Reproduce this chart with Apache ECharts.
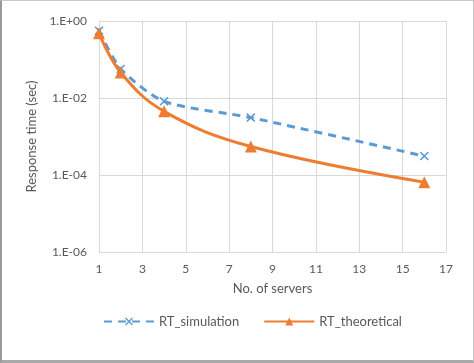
<!DOCTYPE html>
<html>
<head>
<meta charset="utf-8">
<script src="https://cdn.jsdelivr.net/npm/echarts@6/dist/echarts.min.js"></script>
<style>
html,body{margin:0;padding:0;background:#fff;}
#c{width:474px;height:363px;box-sizing:border-box;border:1px solid #c8c8c8;border-left:2px solid #9a9a9a;border-bottom:3px solid #a8a8a8;}
</style>
</head>
<body>
<div id="c"></div>
<script>
const servers = [1, 2, 4, 8, 16];
const rtSimulation = [0.56, 0.057, 0.0082, 0.0031, 0.00031];
const rtTheoretical = [0.48, 0.046, 0.0045, 0.00055, 0.000065];
const seriesNames = ['RT_simulation', 'RT_theoretical'];
const xTitle = 'No. of servers';
const yTitle = 'Response time (sec)';

const chart = echarts.init(document.getElementById('c'));
const font = 'Lato, "Open Sans", sans-serif';
const xMark = 'path://M0,1.2L1.2,0L5,3.8L8.8,0L10,1.2L6.2,5L10,8.8L8.8,10L5,6.2L1.2,10L0,8.8L3.8,5Z';
function fmt(v){
  const e = Math.round(Math.log10(v));
  const s = e < 0 ? '-' : '+';
  const a = Math.abs(e);
  return '1.E' + s + (a < 10 ? '0' + a : a);
}
chart.setOption({
  animation: false,
  textStyle: {fontFamily: font},
  grid: {left: 97, right: 27, top: 20, bottom: 108},
  legend: {
    bottom: 27,
    left: 96,
    itemWidth: 50,
    itemHeight: 10,
    itemGap: 24,
    textStyle: {color: '#595959', fontSize: 13, fontFamily: font},
    data: seriesNames
  },
  xAxis: {
    type: 'value', min: 1, max: 17, interval: 2,
    name: xTitle, nameLocation: 'middle', nameGap: 30,
    nameTextStyle: {color: '#595959', fontSize: 13, fontFamily: font},
    axisLine: {show: true, lineStyle: {color: '#d9d9d9'}},
    axisTick: {show: false},
    axisLabel: {color: '#595959', fontSize: 12, margin: 11},
    splitLine: {show: true, lineStyle: {color: '#d9d9d9'}}
  },
  yAxis: {
    type: 'log', logBase: 10, min: 1e-6, max: 1, interval: 2,
    name: yTitle, nameLocation: 'middle', nameGap: 58,
    nameTextStyle: {color: '#595959', fontSize: 13, fontFamily: font},
    axisLine: {show: true, lineStyle: {color: '#d9d9d9'}},
    axisTick: {show: false},
    axisLabel: {color: '#595959', fontSize: 12, margin: 12, formatter: fmt},
    splitLine: {show: true, lineStyle: {color: '#d9d9d9'}}
  },
  series: [
    {
      name: seriesNames[0], type: 'line', smooth: 0.25,
      data: servers.map((x, i) => [x, rtSimulation[i]]),
      symbol: xMark, symbolSize: 9,
      lineStyle: {color: '#5B9BD5', width: 3, type: [8, 6]},
      itemStyle: {color: '#5B9BD5'},
      z: 2
    },
    {
      name: seriesNames[1], type: 'line', smooth: 0.4,
      data: servers.map((x, i) => [x, rtTheoretical[i]]),
      symbol: 'triangle', symbolSize: 12,
      lineStyle: {color: '#ED7D31', width: 3},
      itemStyle: {color: '#ED7D31'},
      z: 3
    }
  ]
});
</script>
</body>
</html>
